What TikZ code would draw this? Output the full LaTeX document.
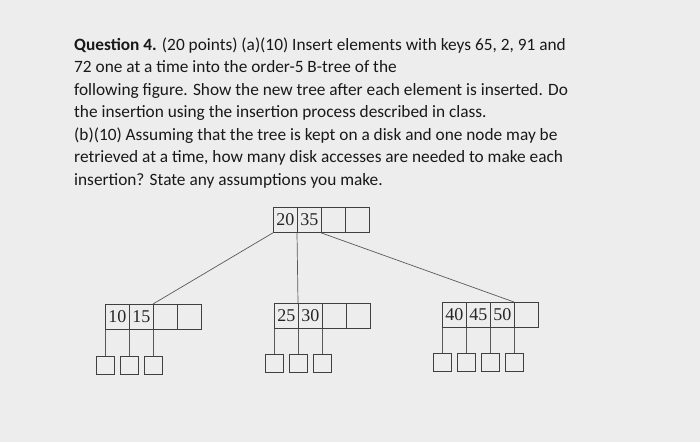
\documentclass[tikz,border=0pt]{standalone}
\usepackage{fontspec}
\setmainfont{Carlito}
\newfontfamily\treefont{Liberation Serif}
\begin{document}
\begin{tikzpicture}[x=1pt,y=-1pt,
  txt/.style={anchor=base west,inner sep=0pt,font=\fontsize{17.3}{20}\selectfont,text=black!90},
  cell/.style={draw=black!75,line width=0.8pt,minimum width=24pt,minimum height=25pt,inner sep=0pt,anchor=north west,font=\treefont\fontsize{18}{18}\selectfont,text=black!85},
  leaf/.style={draw=black!75,line width=0.8pt,minimum width=18pt,minimum height=18pt,inner sep=0pt,anchor=north},
  edge/.style={draw=black!65,line width=0.7pt}]
\fill[gray!14] (0,0) rectangle (700,442);
\useasboundingbox (0,0) rectangle (700,442);
\node[txt] (l1) at (74,50) {\textbf{Question 4.} (20 points) (a)(10) Insert elements with keys 65, 2, 91 and};
\node[txt] (l2) at (74,72.5) {72 one at a time into the order-5 B-tree of the};
\node[txt] (l3) at (74,95) {following figure. Show the new tree after each element is inserted. Do};
\node[txt] (l4) at (74,117.5) {the insertion using the insertion process described in class.};
\node[txt] (l5) at (74,140) {(b)(10) Assuming that the tree is kept on a disk and one node may be};
\node[txt] (l6) at (74,162.5) {retrieved at a time, how many disk accesses are needed to make each};
\node[txt] (l7) at (74,185) {insertion? State any assumptions you make.};
% root
\node[cell] (r1) at (273,207) {20};
\node[cell] (r2) at (297,207) {35};
\node[cell] (r3) at (321,207) {};
\node[cell] (r4) at (345,207) {};
% left
\node[cell] (a1) at (105,304) {10};
\node[cell] (a2) at (129,304) {15};
\node[cell] (a3) at (153,304) {};
\node[cell] (a4) at (177,304) {};
% middle
\node[cell] (b1) at (274,303) {25};
\node[cell] (b2) at (298,303) {30};
\node[cell] (b3) at (322,303) {};
\node[cell] (b4) at (346,303) {};
% right
\node[cell] (c1) at (442,302) {40};
\node[cell] (c2) at (466,302) {45};
\node[cell] (c3) at (490,302) {50};
\node[cell] (c4) at (514,302) {};
% edges
\draw[edge] (r1.south west) -- (a3.north west);
\draw[edge] (r2.south west) -- (b2.north west);
\draw[edge] (r3.south west) -- (c4.north west);
% leaves
\foreach \n/\p/\y in {la1/a1/356,la2/a2/356,la3/a3/356,lb1/b1/354,lb2/b2/354,lb3/b3/354,lc1/c1/353,lc2/c2/353,lc3/c3/353,lc4/c4/353}{
  \node[leaf] (\n) at (\p.south west |- 0,\y) {};
  \draw[edge] (\p.south west) -- (\n.north);
}
\end{tikzpicture}
\end{document}
